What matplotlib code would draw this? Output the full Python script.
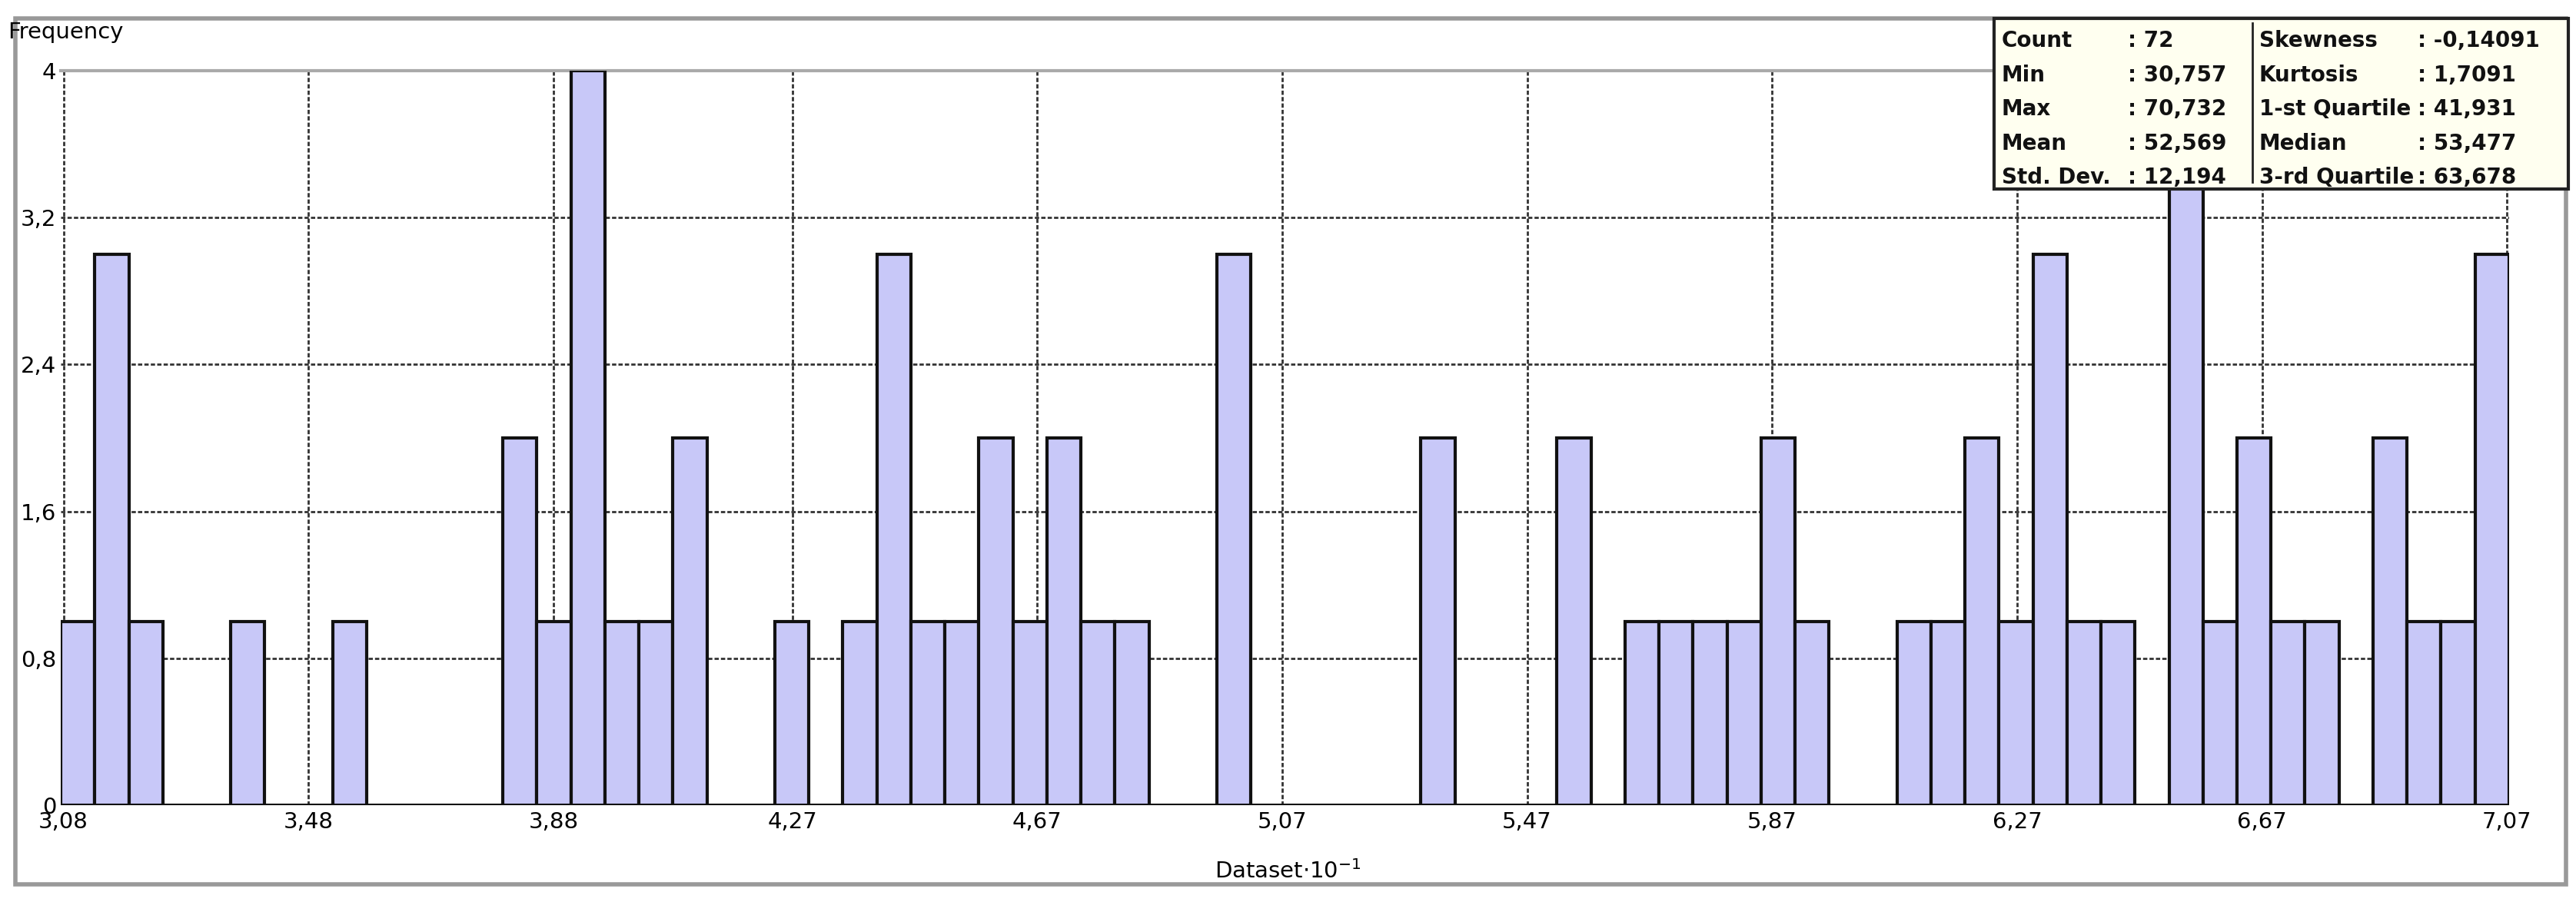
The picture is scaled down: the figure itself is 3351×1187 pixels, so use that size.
import numpy as np
import matplotlib
matplotlib.use('Agg')
import matplotlib.pyplot as plt
from matplotlib.patches import Rectangle

# Histogramm-Daten (72 Klassen zwischen 3,08 und 7,07)
x_min, x_max = 3.0757, 7.0732
n_bins = 72
bin_counts = np.zeros(n_bins, dtype=int)
besetzte_klassen = [0, 1, 2, 5, 8, 13, 14, 15, 16, 17, 18, 21, 23, 24, 25, 26, 27, 28,
                    29, 30, 31, 34, 40, 44, 46, 47, 48, 49, 50, 51, 54, 55, 56, 57, 58,
                    59, 60, 62, 63, 64, 65, 66, 68, 69, 70, 71]
haeufigkeiten = [1, 3, 1, 1, 1, 2, 1, 4, 1, 1, 2, 1, 1, 3, 1, 1, 2, 1,
                 2, 1, 1, 3, 2, 2, 1, 1, 1, 1, 2, 1, 1, 1, 2, 1, 3,
                 1, 1, 4, 1, 2, 1, 1, 2, 1, 1, 3]
bin_counts[besetzte_klassen] = haeufigkeiten

x_ticks = [3.08, 3.48, 3.88, 4.27, 4.67, 5.07, 5.47, 5.87, 6.27, 6.67, 7.07]
y_ticks = [0, 0.8, 1.6, 2.4, 3.2, 4]

stat_links = [("Count", ": 72"), ("Min", ": 30,757"), ("Max", ": 70,732"),
              ("Mean", ": 52,569"), ("Std. Dev.", ": 12,194")]
stat_rechts = [("Skewness", ": -0,14091"), ("Kurtosis", ": 1,7091"),
               ("1-st Quartile", ": 41,931"), ("Median", ": 53,477"),
               ("3-rd Quartile", ": 63,678")]

fig = plt.figure(figsize=(33.51, 11.87), dpi=100)
fig.patch.set_facecolor('white')
# grauer Rahmen
fig.add_artist(Rectangle((0.006, 0.03), 0.99, 0.95, transform=fig.transFigure,
                         fill=False, edgecolor='#999999', lw=4))

ax = fig.add_axes([0.0236, 0.117, 0.9504, 0.8055])
edges = np.linspace(x_min, x_max, n_bins + 1)
breite = edges[1] - edges[0]
ax.bar(edges[:-1], bin_counts, width=breite, align='edge', color='#c8c8f8',
       edgecolor='#111111', linewidth=3, zorder=3)

ax.set_xlim(x_min, x_max)
ax.set_ylim(0, 4)
ax.set_xticks(x_ticks)
ax.set_xticklabels([f"{v:.2f}".replace('.', ',') for v in x_ticks])
ax.set_yticks(y_ticks)
ax.set_yticklabels([f"{v:g}".replace('.', ',') for v in y_ticks])
ax.tick_params(length=0, labelsize=21, pad=6)
ax.tick_params(axis='y', pad=4)
ax.grid(True, color='#333333', linestyle=(0, (2, 1)), linewidth=2, zorder=0)
for s in ax.spines.values():
    s.set_visible(False)
ax.spines['top'].set_visible(True)
ax.spines['top'].set_color('#aaaaaa')
ax.spines['top'].set_linewidth(3)

fig.text(0.003, 0.965, "Frequency", fontsize=21, va='center')
fig.text(0.5, 0.045, r"Dataset$\cdot$10$^{-1}$", fontsize=21, ha='center', va='center')

# Statistik-Kasten
fig.add_artist(Rectangle((0.774, 0.793), 0.223, 0.187, transform=fig.transFigure,
                         facecolor='#fffff0', edgecolor='#222222', lw=3, zorder=10))
fig.add_artist(plt.Line2D([0.8745, 0.8745], [0.8, 0.975], transform=fig.transFigure,
                          color='#222222', lw=2, zorder=11))
for i, ((k1, v1), (k2, v2)) in enumerate(zip(stat_links, stat_rechts)):
    y = 0.955 - i * 0.0375
    kw = dict(fontsize=20, fontweight='bold', va='center', zorder=12, color='#111111')
    fig.text(0.777, y, k1, **kw)
    fig.text(0.826, y, v1, **kw)
    fig.text(0.877, y, k2, **kw)
    fig.text(0.9385, y, v2, **kw)

fig.savefig('out.png', dpi=100)
